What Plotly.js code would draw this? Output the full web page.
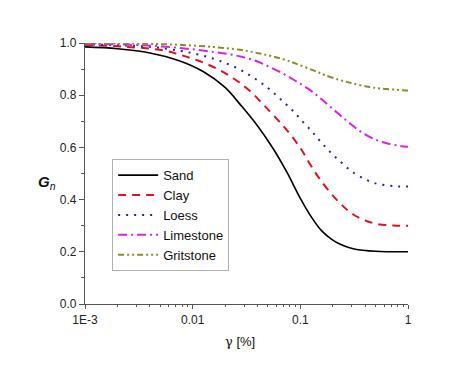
<!DOCTYPE html>
<html>
<head>
<meta charset="utf-8">
<script src="https://cdn.plot.ly/plotly-3.0.1.min.js"></script>
<style>html,body{margin:0;padding:0;background:#fff;}#chart{width:474px;height:366px;}</style>
</head>
<body>
<div id="chart"></div>
<script>
// Shear strain gamma [%] and normalized modulus G_n
const seriesNames = ['Sand', 'Clay', 'Loess', 'Limestone', 'Gritstone'];

const sandX = [0.001, 0.002, 0.004, 0.0075, 0.0126, 0.020, 0.0282, 0.0398, 0.0562, 0.075, 0.10, 0.126, 0.158, 0.20, 0.25, 0.316, 0.50, 1.0];
const sandG = [0.985, 0.978, 0.962, 0.932, 0.890, 0.830, 0.760, 0.684, 0.594, 0.505, 0.405, 0.335, 0.280, 0.245, 0.224, 0.211, 0.202, 0.200];

const clayX = [0.001, 0.0025, 0.0053, 0.0076, 0.011, 0.0167, 0.024, 0.033, 0.052, 0.075, 0.10, 0.123, 0.152, 0.217, 0.31, 0.475, 0.73, 1.0];
const clayG = [0.993, 0.985, 0.972, 0.955, 0.934, 0.902, 0.864, 0.821, 0.738, 0.666, 0.598, 0.536, 0.478, 0.400, 0.343, 0.310, 0.301, 0.300];

const loessX = [0.001, 0.0042, 0.0076, 0.011, 0.0155, 0.0207, 0.0265, 0.033, 0.042, 0.053, 0.067, 0.084, 0.105, 0.13, 0.158, 0.195, 0.245, 0.31, 0.40, 0.49, 0.63, 0.81, 1.0];
const loessG = [0.995, 0.985, 0.970, 0.957, 0.940, 0.921, 0.902, 0.879, 0.851, 0.819, 0.781, 0.743, 0.699, 0.658, 0.617, 0.577, 0.539, 0.504, 0.478, 0.463, 0.455, 0.450, 0.450];

const limeX = [0.001, 0.0035, 0.0076, 0.0155, 0.022, 0.0285, 0.0366, 0.045, 0.054, 0.072, 0.0925, 0.118, 0.147, 0.182, 0.233, 0.288, 0.384, 0.511, 0.633, 0.84, 1.0];
const limeG = [0.997, 0.991, 0.981, 0.966, 0.957, 0.947, 0.935, 0.920, 0.905, 0.879, 0.852, 0.825, 0.795, 0.762, 0.724, 0.692, 0.654, 0.628, 0.616, 0.606, 0.602];

const gritX = [0.001, 0.0037, 0.0076, 0.0155, 0.0275, 0.0366, 0.045, 0.054, 0.069, 0.083, 0.096, 0.127, 0.152, 0.169, 0.225, 0.269, 0.31, 0.427, 0.548, 0.728, 0.9, 1.0];
const gritG = [0.999, 0.997, 0.993, 0.985, 0.974, 0.965, 0.957, 0.950, 0.938, 0.927, 0.917, 0.898, 0.885, 0.877, 0.860, 0.851, 0.845, 0.832, 0.826, 0.822, 0.819, 0.818];

const xTickVals = [0.001, 0.01, 0.1, 1];
const xTickText = ['1E-3', '0.01', '0.1', '1'];

const styles = [
  {color: '#000000', width: 1.6, dash: 'solid'},
  {color: '#e0141e', width: 2, dash: '8px,6px'},
  {color: '#2424a8', width: 2, dash: '2px,6px'},
  {color: '#e020e0', width: 2, dash: '9px,4px,2px,4px'},
  {color: '#8c8c24', width: 2, dash: '6px,3px,2px,3px,2px,3px'}
];
const xs = [sandX, clayX, loessX, limeX, gritX];
const ys = [sandG, clayG, loessG, limeG, gritG];

const traces = seriesNames.map((n, i) => ({
  type: 'scatter', mode: 'lines', name: n,
  x: xs[i], y: ys[i],
  line: Object.assign({shape: 'spline', smoothing: 1}, styles[i])
}));

const fontFam = 'Liberation Sans, Arial, sans-serif';
const layout = {
  width: 474, height: 366,
  margin: {l: 85, r: 66, t: 43, b: 62},
  paper_bgcolor: '#fff', plot_bgcolor: '#fff',
  font: {family: fontFam, size: 12, color: '#222'},
  showlegend: true,
  legend: {
    x: 0.084, y: 0.555, xanchor: 'left', yanchor: 'top',
    bordercolor: '#b0b0b0', borderwidth: 1, bgcolor: '#fff',
    font: {family: fontFam, size: 13, color: '#111'},
    itemwidth: 40,
    tracegroupgap: 0
  },
  xaxis: {
    type: 'log', range: [-3, 0],
    tickmode: 'array', tickvals: xTickVals, ticktext: xTickText,
    ticks: 'outside', ticklen: 4, tickwidth: 1, tickcolor: '#555',
    showline: true, linecolor: '#555', linewidth: 1.2,
    showgrid: false, zeroline: false,
    tickfont: {family: fontFam, size: 12, color: '#222'},
    minor: {ticks: 'outside', ticklen: 2, tickcolor: '#555', dtick: 'D1', showgrid: false}
  },
  yaxis: {
    range: [0, 1], dtick: 0.2, tick0: 0, tickformat: '.1f',
    ticks: 'outside', ticklen: 5, tickwidth: 1, tickcolor: '#555',
    showline: true, linecolor: '#555', linewidth: 1.2,
    showgrid: false, zeroline: false,
    tickfont: {family: fontFam, size: 12, color: '#222'},
    minor: {ticks: 'outside', ticklen: 3, tickcolor: '#555', dtick: 0.1, showgrid: false}
  },
  annotations: [
    {xref: 'paper', yref: 'paper', x: -0.118, y: 0.464, xanchor: 'center', yanchor: 'middle',
     text: '<b><i>G</i></b><sub><i>n</i></sub>', showarrow: false,
     font: {family: fontFam, size: 15, color: '#111'}},
    {xref: 'paper', yref: 'paper', x: 0.48, y: -0.144, xanchor: 'center', yanchor: 'middle',
     text: '<span style="font-family:DejaVu Serif">γ</span> [%]', showarrow: false,
     font: {family: fontFam, size: 13, color: '#111'}}
  ]
};

Plotly.newPlot('chart', traces, layout, {displayModeBar: false, staticPlot: true});
</script>
</body>
</html>
